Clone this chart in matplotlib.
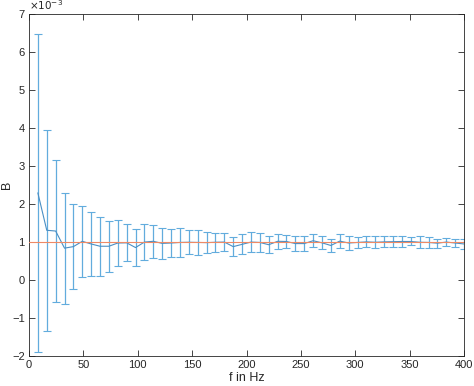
import matplotlib
matplotlib.use("Agg")
import matplotlib.pyplot as plt

plt.rcParams['font.family'] = ['Liberation Sans', 'DejaVu Sans']

# frequency values (Hz)
f = [8.16, 16.33, 24.49, 32.65, 40.82, 48.98, 57.14, 65.31, 73.47, 81.63,
     89.80, 97.96, 106.12, 114.29, 122.45, 130.61, 138.78, 146.94, 155.10, 163.27,
     171.43, 179.59, 187.76, 195.92, 204.08, 212.24, 220.41, 228.57, 236.73, 244.90,
     253.06, 261.22, 269.39, 277.55, 285.71, 293.88, 302.04, 310.20, 318.37, 326.53,
     334.69, 342.86, 351.02, 359.18, 367.35, 375.51, 383.67, 391.84, 400.00]

# mean B (in units of 1e-3)
B_mean = [2.29, 1.31, 1.29, 0.84, 0.88, 1.02, 0.95, 0.89, 0.89, 0.975,
          0.98, 0.855, 1.00, 1.02, 0.965, 0.975, 0.99, 0.995, 0.99, 0.985,
          0.995, 1.00, 0.88, 0.94, 1.00, 0.99, 0.93, 1.02, 1.015, 0.96,
          0.96, 1.035, 0.98, 0.91, 1.025, 0.975, 0.99, 1.005, 0.995, 1.005,
          1.01, 1.015, 1.015, 0.995, 0.99, 0.97, 1.00, 0.975, 0.95]

# error (in units of 1e-3)
B_err = [4.18, 2.64, 1.86, 1.46, 1.12, 0.94, 0.85, 0.78, 0.67, 0.60,
         0.49, 0.485, 0.47, 0.44, 0.40, 0.36, 0.38, 0.31, 0.34, 0.275,
         0.255, 0.24, 0.255, 0.26, 0.26, 0.24, 0.22, 0.19, 0.175, 0.19,
         0.19, 0.175, 0.17, 0.16, 0.185, 0.175, 0.15, 0.145, 0.155, 0.145,
         0.14, 0.135, 0.105, 0.155, 0.155, 0.12, 0.105, 0.115, 0.13]

ref_x = [0, 400]
ref_y = [1, 1]

fig = plt.figure(figsize=(4.74, 3.86), dpi=100)
ax = fig.add_axes([0.0612, 0.0775, 0.9178, 0.8862])

ax.errorbar(f, B_mean, yerr=B_err, color='#4A8FC4', ecolor='#62ACDD',
            lw=0.8, elinewidth=0.9, capsize=2.6, capthick=0.8, zorder=2)
ax.plot(ref_x, ref_y, color='#EE8A66', lw=0.8, zorder=3)

ax.set_xlim(0, 400)
ax.set_ylim(-2, 7)
ax.set_xticks([0, 50, 100, 150, 200, 250, 300, 350, 400])
ax.set_yticks([-2, -1, 0, 1, 2, 3, 4, 5, 6, 7])
ax.tick_params(direction='in', length=4, width=0.6, top=True, right=True,
               labelsize=8, colors='#262626', pad=3)
for s in ax.spines.values():
    s.set_color('#262626')
    s.set_linewidth(0.6)

ax.set_xlabel('f in Hz', fontsize=9, color='#262626', labelpad=1)
ax.set_ylabel('B', fontsize=9, color='#262626')
ax.yaxis.set_label_coords(-0.037, 0.5)
ax.text(0.0, 1.005, r'$\times10^{-3}$', transform=ax.transAxes, fontsize=7.5,
        color='#262626', ha='left', va='bottom')

fig.savefig('out.png', dpi=100)
